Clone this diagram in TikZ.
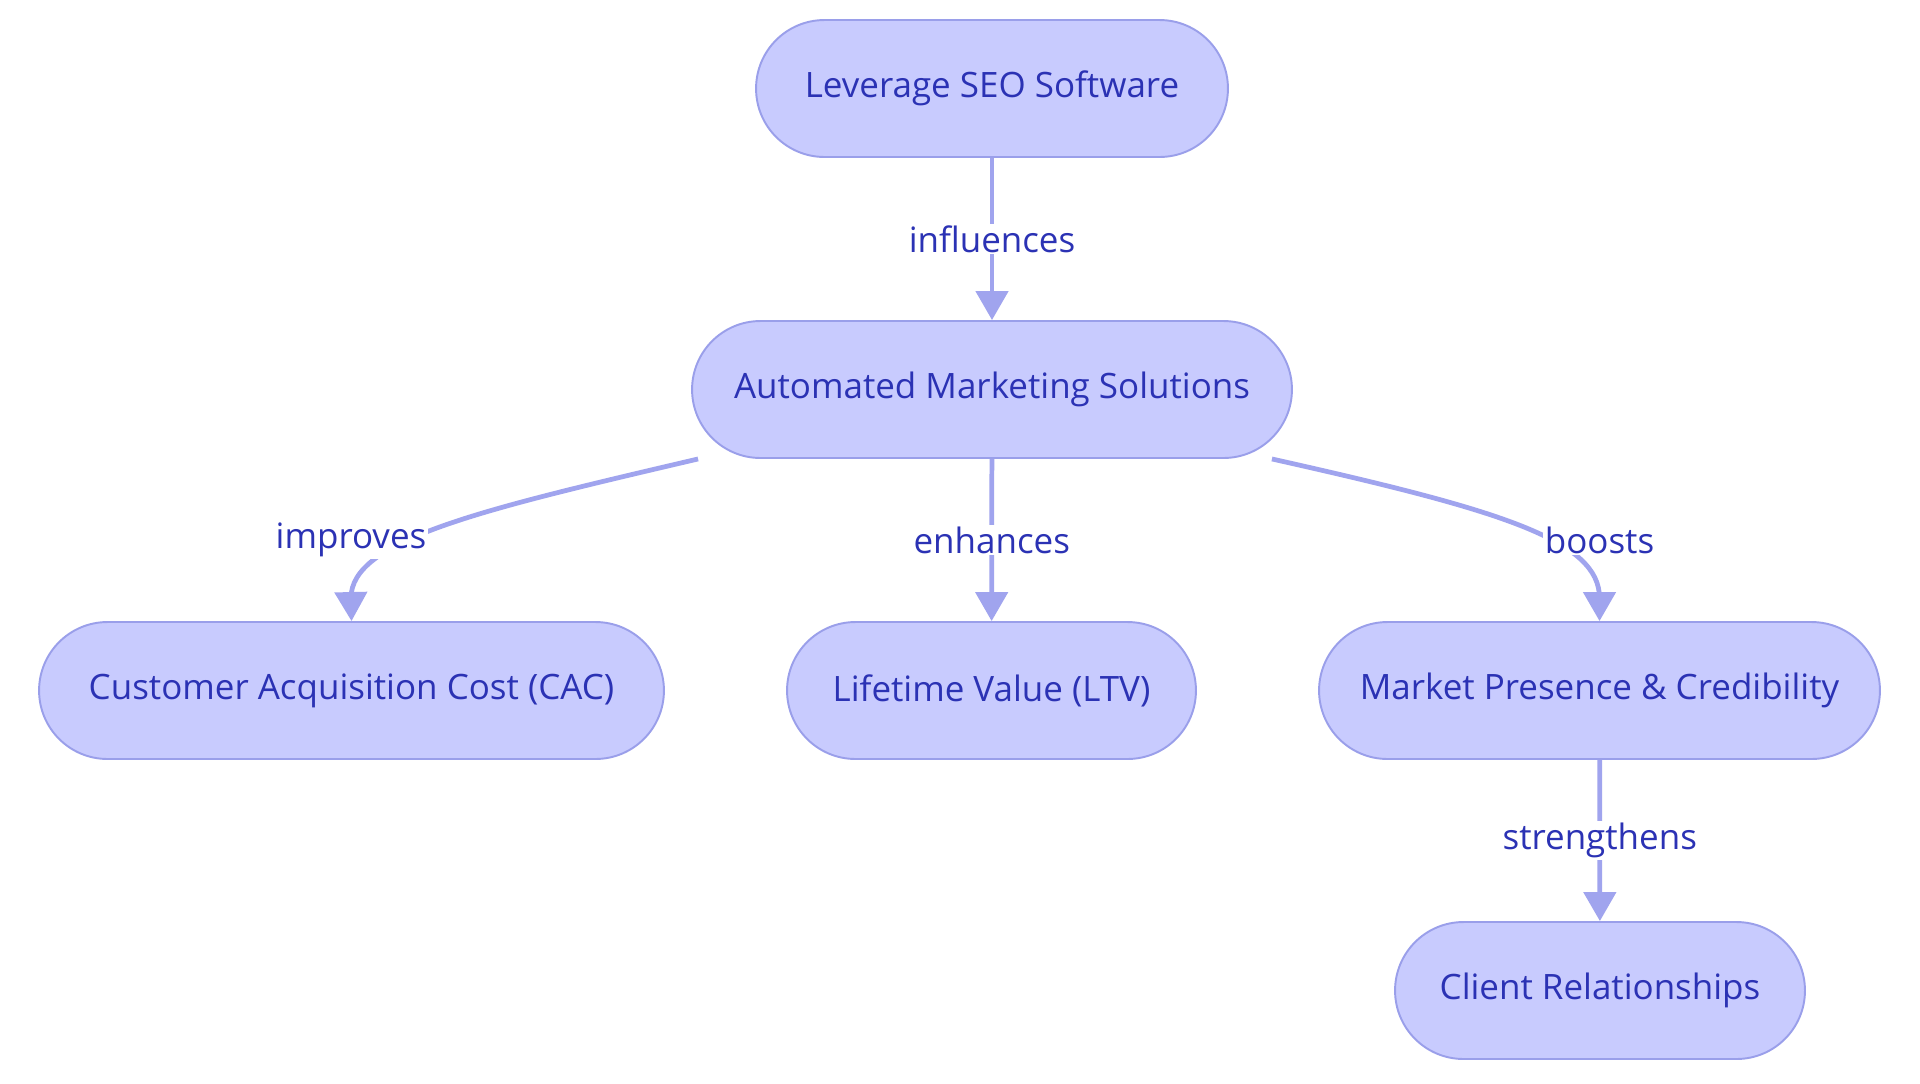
\documentclass[tikz,border=0pt]{standalone}
\usepackage{fontspec}
\setmainfont{Open Sans}
\usetikzlibrary{arrows.meta,positioning}
\definecolor{nodefill}{HTML}{C8CBFE}
\definecolor{nodeline}{HTML}{9A9FEA}
\definecolor{edgecol}{HTML}{A0A4EE}
\definecolor{txtcol}{HTML}{2B32B4}
\tikzset{
  pill/.style={draw=nodeline, fill=nodefill, line width=1.1pt, rounded corners=1.37cm,
    minimum height=2.74cm, text=txtcol, font=\fontsize{19.9}{23}\selectfont, inner sep=0pt},
  conn/.style={draw=edgecol, line width=2.7pt, -{Triangle[width=0.64cm,length=0.58cm]}},
  lbl/.style={fill=white, text=txtcol, font=\fontsize{19.9}{23}\selectfont, inner sep=1pt}
}
\begin{document}
\begin{tikzpicture}[x=0.02cm,y=-0.02cm]
\useasboundingbox[fill=white] (0,0) rectangle (1920,1083);
\node[pill, minimum width=9.44cm] (A) at (992,88.5) {Leverage SEO Software};
\node[pill, minimum width=12cm] (B) at (992,389.5) {Automated Marketing Solutions};
\node[pill, minimum width=12.5cm] (C) at (351.5,690.5) {Customer Acquisition Cost (CAC)};
\node[pill, minimum width=8.18cm] (D) at (991.5,690.5) {Lifetime Value (LTV)};
\node[pill, minimum width=11.22cm] (E) at (1599.5,690.5) {Market Presence \& Credibility};
\node[pill, minimum width=8.2cm] (F) at (1600,990.5) {Client Relationships};

\draw[conn] (A) -- node[lbl] {influences} (B);
\draw[conn] (B) -- node[lbl] {enhances} (D);
\draw[conn] (E) -- node[lbl] {strengthens} (F);

\coordinate (bl) at ([xshift=-5.88cm]B.south);
\coordinate (br) at ([xshift=5.6cm]B.south);
\draw[conn] (bl) .. controls (480,510) and (351,540) .. (351,598) -- (C.north);
\draw[conn] (br) .. controls (1500,510) and (1599.5,540) .. (1599.5,598) -- (E.north);
\node[lbl] (lc) at (351,540) {improves};
\node[lbl] (le) at (1599.5,540) {boosts};
\end{tikzpicture}
\end{document}
